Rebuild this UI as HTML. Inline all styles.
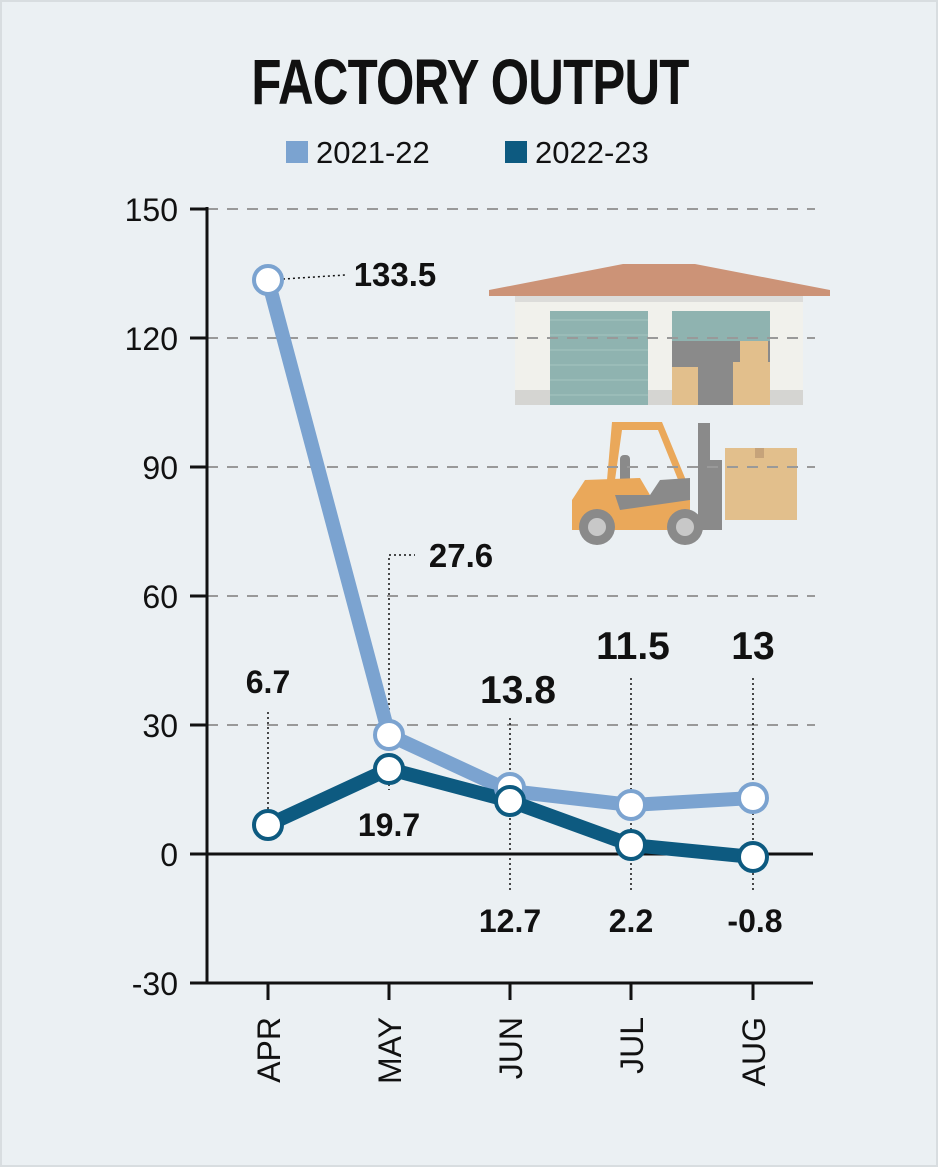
<!DOCTYPE html>
<html><head><meta charset="utf-8"><style>
html,body{margin:0;padding:0;background:#fff}
svg{display:block}
text{font-family:"Liberation Sans",sans-serif}
</style></head><body>
<svg width="938" height="1167" viewBox="0 0 938 1167" xmlns="http://www.w3.org/2000/svg">
<rect x="1" y="1" width="936" height="1165" fill="#ebf0f3" stroke="#d8dde0" stroke-width="2"/>
<text x="470" y="104" text-anchor="middle" font-size="64" font-weight="bold" fill="#111" transform="translate(470 0) scale(0.77 1) translate(-470 0)" letter-spacing="-1">FACTORY OUTPUT</text>
<rect x="286" y="141" width="22" height="22" fill="#7ba3d0"/>
<text x="316" y="163" font-size="31" fill="#111">2021-22</text>
<rect x="505" y="141" width="22" height="22" fill="#0d5a80"/>
<text x="535" y="163" font-size="31" fill="#111">2022-23</text>

<g>
<polygon points="489,290 623,264 695,264 830,290 830,296 489,296" fill="#cc9377"/>
<rect x="515" y="296" width="288" height="6" fill="#dcdcda"/>
<rect x="515" y="302" width="288" height="103" fill="#f1f1ec"/>
<rect x="515" y="390" width="288" height="15" fill="#d5d5d2"/>
<rect x="550" y="311" width="98" height="94" fill="#8fb3b0"/>
<rect x="672" y="311" width="98" height="94" fill="#8fb3b0"/>
<g stroke="#a6c4c1" stroke-width="1">
<line x1="550" y1="320" x2="648" y2="320"/><line x1="550" y1="335" x2="648" y2="335"/><line x1="550" y1="350" x2="648" y2="350"/><line x1="550" y1="365" x2="648" y2="365"/><line x1="550" y1="380" x2="648" y2="380"/><line x1="550" y1="395" x2="648" y2="395"/>
</g>
<rect x="672" y="341" width="98" height="64" fill="#8a8a8a"/>
<rect x="740" y="341" width="28" height="23" fill="#e2bf8c"/>
<rect x="733" y="362" width="37" height="43" fill="#e2bf8c"/>
<rect x="672" y="367" width="26" height="38" fill="#e2bf8c"/>
<rect x="698" y="423" width="12" height="107" fill="#8a8a8a"/>
<rect x="710" y="460" width="12" height="70" fill="#8a8a8a"/>
<rect x="725" y="448" width="72" height="72" fill="#e2bf8c"/>
<rect x="755" y="448" width="9" height="10" fill="#c6a37a"/>
<polygon points="612,422 662,422 690,490 683,492 658,430 622,430 615,480 607,480" fill="#eaa85a"/>
<rect x="620" y="455" width="10" height="30" rx="4" fill="#8a8a8a"/>
<polygon points="572,500 585,480 640,478 650,495 690,495 690,530 572,530" fill="#eaa85a"/>
<polygon points="615,495 650,495 660,480 690,478 690,500 620,510" fill="#8a8a8a"/>
<circle cx="597" cy="527" r="18" fill="#8a8a8a"/><circle cx="597" cy="527" r="9" fill="#c8c8c8"/>
<circle cx="685" cy="527" r="18" fill="#8a8a8a"/><circle cx="685" cy="527" r="9" fill="#c8c8c8"/>
</g>

<g stroke="#999" stroke-width="2" stroke-dasharray="11 9">
<line x1="207" y1="209" x2="815" y2="209"/>
<line x1="207" y1="338" x2="815" y2="338"/>
<line x1="207" y1="467" x2="815" y2="467"/>
<line x1="207" y1="596" x2="815" y2="596"/>
<line x1="207" y1="725" x2="815" y2="725"/>
</g>
<line x1="207" y1="854" x2="813" y2="854" stroke="#111" stroke-width="3"/>
<line x1="207" y1="207" x2="207" y2="984" stroke="#111" stroke-width="3"/>
<line x1="207" y1="983" x2="813" y2="983" stroke="#111" stroke-width="3"/>
<g stroke="#111" stroke-width="3">
<line x1="190" y1="209" x2="207" y2="209"/><line x1="190" y1="338" x2="207" y2="338"/>
<line x1="190" y1="467" x2="207" y2="467"/><line x1="190" y1="596" x2="207" y2="596"/>
<line x1="190" y1="725" x2="207" y2="725"/><line x1="190" y1="854" x2="207" y2="854"/>
<line x1="190" y1="983" x2="207" y2="983"/>
<line x1="268" y1="983" x2="268" y2="1000"/><line x1="389" y1="983" x2="389" y2="1000"/>
<line x1="510" y1="983" x2="510" y2="1000"/><line x1="631" y1="983" x2="631" y2="1000"/>
<line x1="753" y1="983" x2="753" y2="1000"/>
</g>
<g font-size="32" fill="#111" text-anchor="end">
<text x="178" y="221">150</text><text x="178" y="350">120</text><text x="178" y="479">90</text>
<text x="178" y="608">60</text><text x="178" y="737">30</text><text x="178" y="866">0</text>
<text x="178" y="995">-30</text>
</g>
<g font-size="32" fill="#111" text-anchor="end">
<text transform="translate(280 1017) rotate(-90)">APR</text>
<text transform="translate(401 1017) rotate(-90)">MAY</text>
<text transform="translate(522 1017) rotate(-90)">JUN</text>
<text transform="translate(643 1017) rotate(-90)">JUL</text>
<text transform="translate(765 1017) rotate(-90)">AUG</text>
</g>

<g stroke="#111" stroke-width="1.5" stroke-dasharray="2 3" fill="none">
<polyline points="268,280 345,275"/>
<polyline points="389,735 389,555 415,555"/>
<line x1="268" y1="712" x2="268" y2="825"/>
<line x1="389" y1="769" x2="389" y2="790"/>
<line x1="510" y1="718" x2="510" y2="892"/>
<line x1="631" y1="678" x2="631" y2="890"/>
<line x1="753" y1="678" x2="753" y2="890"/>
</g>

<polyline points="268,280 389,735 510,791 631,805 753,798" fill="none" stroke="#7ba3d0" stroke-width="14" stroke-linejoin="round"/>
<polyline points="268,825 389,769 510,801 631,845 753,857" fill="none" stroke="#0d5a80" stroke-width="14" stroke-linejoin="round"/>
<g fill="#fff" stroke="#7ba3d0" stroke-width="4">
<circle cx="268" cy="280" r="14"/><circle cx="389" cy="735" r="14"/><circle cx="510" cy="788" r="14"/>
<circle cx="631" cy="805" r="14"/><circle cx="753" cy="798" r="14"/>
</g>
<g fill="#fff" stroke="#0d5a80" stroke-width="4">
<circle cx="268" cy="825" r="14"/><circle cx="389" cy="769" r="14"/><circle cx="510" cy="801" r="14"/>
<circle cx="631" cy="845" r="14"/><circle cx="753" cy="857" r="14"/>
</g>

<g font-weight="bold" fill="#111" text-anchor="middle">
<text x="395" y="286" font-size="33">133.5</text>
<text x="461" y="567" font-size="33">27.6</text>
<text x="268" y="693" font-size="32">6.7</text>
<text x="518" y="703" font-size="39">13.8</text>
<text x="633" y="659" font-size="39">11.5</text>
<text x="753" y="659" font-size="39">13</text>
<text x="389" y="836" font-size="32">19.7</text>
<text x="510" y="932" font-size="32">12.7</text>
<text x="631" y="932" font-size="32">2.2</text>
<text x="755" y="932" font-size="32">-0.8</text>
</g>
</svg>
</body></html>
